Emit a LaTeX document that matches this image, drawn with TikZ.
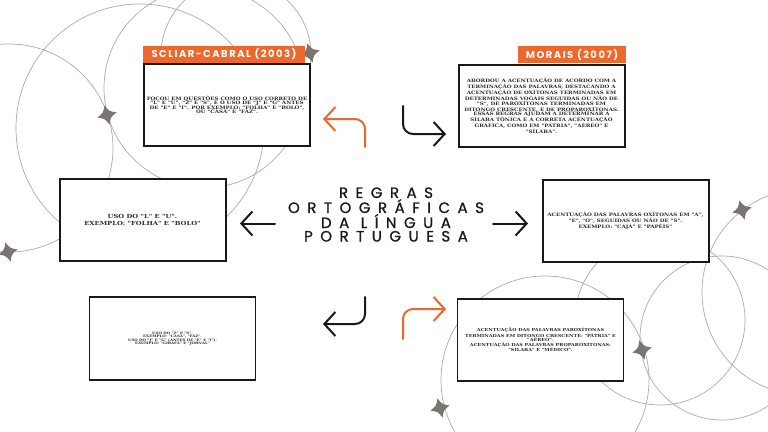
\documentclass[tikz,border=0pt]{standalone}
\usepackage{fontspec}
\usetikzlibrary{arrows.meta}
\newfontfamily\titlefont[LetterSpace=50,FakeBold=0.9]{Poppins}
\newfontfamily\headfont[LetterSpace=15]{Poppins}
\newfontfamily\boxfont[FakeStretch=1.2]{DejaVu Serif}
\definecolor{orng}{RGB}{236,104,44}
\definecolor{circc}{RGB}{172,172,172}
\definecolor{starc}{RGB}{122,116,115}
\definecolor{txtc}{RGB}{45,45,45}
\definecolor{inkc}{RGB}{25,25,25}
\tikzset{
  circ/.style={draw=circc, line width=0.7pt},
  boxa/.style={draw=inkc, line width=2pt, fill=white, align=center, text=txtc, inner sep=0pt, minimum width=166pt, minimum height=82pt},
  boxb/.style={boxa, line width=1.6pt},
  hdr/.style={fill=orng, text=white, inner sep=0pt, font=\headfont\bfseries\fontsize{10}{10}\selectfont},
  ttl/.style={align=center, text=inkc, inner sep=0pt, font=\titlefont\fontsize{15}{13.5}\selectfont},
  arr/.style={draw=inkc, line width=2pt, line cap=round, line join=round, rounded corners=10pt, -{Straight Barb[length=11pt,width=24pt]}},
  oarr/.style={arr, draw=orng},
  spark/.pic={\fill[starc, rotate=15] (0,-10) .. controls (3,-3) .. (10,0) .. controls (3,3) .. (0,10) .. controls (-3,3) .. (-10,0) .. controls (-3,-3) .. (0,-10) -- cycle;}
}
\begin{document}
\begin{tikzpicture}[x=1pt,y=-1pt]
\fill[white] (0,0) rectangle (768,431);
\useasboundingbox (0,0) rectangle (768,431);
% background circles
\begin{scope}
\clip (0,0) rectangle (768,431);
\draw[circ] (9,148) circle[radius=104pt];
\draw[circ] (204,88) circle[radius=100pt];
\draw[circ] (140,128) circle[radius=124pt];
\draw[circ] (236,55) circle[radius=75pt];
\draw[circ] (545,380) circle[radius=104pt];
\draw[circ] (722,338) circle[radius=82pt];
\draw[circ] (660,320) circle[radius=85pt];
\draw[circ] (805,292) circle[radius=103pt];
\end{scope}
% sparkles
\pic at (107,115) {spark};
\pic at (310,53) {spark};
\pic at (8,252) {spark};
\pic at (742,210) {spark};
\pic at (642,350) {spark};
\pic at (440,408) {spark};
% boxes
\node (scl) [boxa, font={\boxfont\bfseries\fontsize{4.6}{4.5}\selectfont}] at (227,105)
 {FOCOU EM QUESTÕES COMO O USO CORRETO DE\\"L" E "U", "Z" E "S", E O USO DE "J" E "G" ANTES\\DE "E" E "I". POR EXEMPLO: "FOLHA" E "BOLO",\\OU "CASA" E "FAZ".};
\node (mor) [boxa, font={\boxfont\bfseries\fontsize{4.6}{4.35}\selectfont}] at (541.5,106)
 {ABORDOU A ACENTUAÇÃO DE ACORDO COM A\\TERMINAÇÃO DAS PALAVRAS, DESTACANDO A\\ACENTUAÇÃO DE OXÍTONAS TERMINADAS EM\\DETERMINADAS VOGAIS SEGUIDAS OU NÃO DE\\"S", DE PAROXÍTONAS TERMINADAS EM\\DITONGO CRESCENTE, E DE PROPAROXÍTONAS.\\ESSAS REGRAS AJUDAM A DETERMINAR A\\SÍLABA TÔNICA E A CORRETA ACENTUAÇÃO\\GRÁFICA, COMO EM "PÁTRIA", "AÉREO" E\\"SÍLABA".};
\node (lft) [boxa, font={\boxfont\bfseries\fontsize{5.6}{6.6}\selectfont}] at (142.5,220)
 {USO DO "L" E "U".\\EXEMPLO: "FOLHA" E "BOLO"};
\node (rgt) [boxa, font={\boxfont\bfseries\fontsize{4.6}{4.5}\selectfont}] at (625.5,221)
 {ACENTUAÇÃO DAS PALAVRAS OXÍTONAS EM "A",\\"E", "O", SEGUIDAS OU NÃO DE "S".\\EXEMPLO: "CAJÁ" E "PAPÉIS"};
\node (bl) [boxb, minimum height=83pt, font={\boxfont\bfseries\fontsize{3.3}{3.4}\selectfont}] at (172.5,338.5)
 {USO DO "Z" E "S".\\EXEMPLO: "CASA", "FAZ".\\USO DO "J" E "G" (ANTES DE "E" E "I").\\EXEMPLO: "GIRAFA" E "JORNAL"};
\node (br) [boxb, minimum height=82pt, font={\boxfont\bfseries\fontsize{4.1}{4.3}\selectfont}] at (540.5,340)
 {ACENTUAÇÃO DAS PALAVRAS PAROXÍTONAS\\TERMINADAS EM DITONGO CRESCENTE: "PÁTRIA" E\\"AÉREO".\\ACENTUAÇÃO DAS PALAVRAS PROPAROXÍTONAS:\\"SÍLABA" E "MÉDICO".};
% headers
\node (sclh) [hdr, minimum width=162pt, minimum height=16.6pt] at (224,54.3) {SCLIAR-CABRAL (2003)};
\node (morh) [hdr, minimum width=108pt, minimum height=17pt] at (572,54.5) {MORAIS (2007)};
% title
\node (title) [ttl] at (386,214.5) {REGRAS\\ORTOGRÁFICAS\\DA LÍNGUA\\PORTUGUESA};
% arrows
\coordinate (la1) at (275,223.5); \coordinate (la2) at (240,223.5);
\coordinate (ra1) at (493,223.5); \coordinate (ra2) at (528,223.5);
\coordinate (ot1) at (365,147); \coordinate (ot2) at (365,119); \coordinate (ot3) at (323,119);
\coordinate (bt1) at (403,106); \coordinate (bt2) at (403,134); \coordinate (bt3) at (446,134);
\coordinate (bb1) at (365,297); \coordinate (bb2) at (365,324); \coordinate (bb3) at (323,324);
\coordinate (ob1) at (403,339); \coordinate (ob2) at (403,309); \coordinate (ob3) at (446,309);
\draw[arr] (la1) -- (la2);
\draw[arr] (ra1) -- (ra2);
\draw[oarr] (ot1) -- (ot2) -- (ot3);
\draw[arr] (bt1) -- (bt2) -- (bt3);
\draw[arr] (bb1) -- (bb2) -- (bb3);
\draw[oarr] (ob1) -- (ob2) -- (ob3);
\end{tikzpicture}
\end{document}
